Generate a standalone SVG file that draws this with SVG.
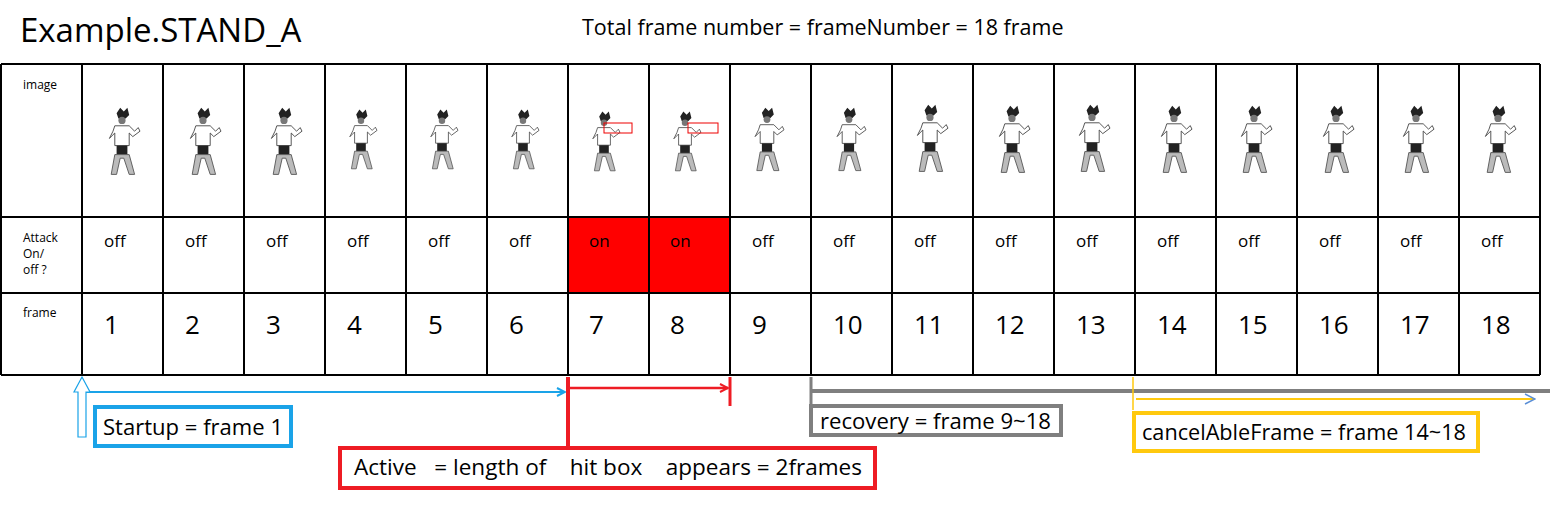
<svg xmlns="http://www.w3.org/2000/svg" width="1550" height="516" viewBox="0 0 1550 516">
<style>
text{font-family:"Open Sans","Noto Sans","Liberation Sans",sans-serif;fill:#000}
.g{stroke:#000;stroke-width:2;fill:none}
.lab{font-size:12px}
.st{font-size:17px}
.num{font-size:26px}
.ann{font-size:21px}
</style>
<defs>
<symbol id="fig" viewBox="0 0 40 80" overflow="visible">
<path d="M14 8 L18 2 L22 6 L26 2 L28 10 L24 14 L16 14 Z" fill="#222"/>
<circle cx="20" cy="16" r="4" fill="#777"/>
<path d="M12 22 L28 22 L34 28 L38 24 L40 28 L32 34 L28 30 L28 44 L12 44 L12 30 L6 36 L10 28 Z" fill="#fff" stroke="#444" stroke-width="1"/>
<rect x="14" y="44" width="12" height="10" fill="#222"/>
<path d="M12 54 L8 76 L14 76 L18 58 L22 58 L28 76 L34 76 L28 54 Z" fill="#bbb" stroke="#555" stroke-width="1"/>
</symbol>
<marker id="ab" markerWidth="10" markerHeight="10" refX="9" refY="5" orient="auto" markerUnits="userSpaceOnUse"><path d="M1 1 L9 5 L1 9" fill="none" stroke="#1aa3e8" stroke-width="2"/></marker>
<marker id="ar" markerWidth="10" markerHeight="10" refX="9" refY="5" orient="auto" markerUnits="userSpaceOnUse"><path d="M1 1 L9 5 L1 9" fill="none" stroke="#ee1c24" stroke-width="2"/></marker>
<marker id="ay" markerWidth="12" markerHeight="12" refX="11" refY="6" orient="auto" markerUnits="userSpaceOnUse"><path d="M1 1 L11 6 L1 11" fill="none" stroke="#5b8fd6" stroke-width="1.5"/></marker>
</defs>
<text x="20" y="42" font-size="33">Example.STAND_A</text>
<text x="582" y="35" font-size="21.5">Total frame number = frameNumber = 18 frame</text>
<g id="table">
<rect x="568" y="217" width="162" height="76" fill="#ff0000"/>
<path class="g" d="M1 64H1540M1 217H1540M1 293H1540M1 375H1540M1 64V375M82 64V375M163 64V375M244 64V375M325 64V375M406 64V375M487 64V375M568 64V375M649 64V375M730 64V375M811 64V375M892 64V375M973 64V375M1054 64V375M1135 64V375M1216 64V375M1297 64V375M1378 64V375M1459 64V375M1540 64V375"/>
<text class="lab" x="23" y="89">image</text>
<text class="lab" x="23" y="242">Attack</text>
<text class="lab" x="23" y="258">On/</text>
<text class="lab" x="23" y="274">off ?</text>
<text class="lab" x="23" y="317">frame</text>
</g>
<g id="sprites">
<use href="#fig" x="104" y="104" width="36" height="76"/>
<use href="#fig" x="185" y="104" width="36" height="76"/>
<use href="#fig" x="266" y="104" width="36" height="76"/>
<use href="#fig" x="345" y="102" width="32" height="76"/>
<use href="#fig" x="426" y="102" width="32" height="76"/>
<use href="#fig" x="507" y="102" width="32" height="76"/>
<use href="#fig" x="588" y="104" width="32" height="76"/>
<rect x="604" y="123" width="28" height="10" fill="none" stroke="#e00" stroke-width="1"/>
<use href="#fig" x="669" y="104" width="32" height="76"/>
<rect x="688" y="123" width="30" height="10" fill="none" stroke="#e00" stroke-width="1"/>
<use href="#fig" x="750" y="102" width="34" height="76"/>
<use href="#fig" x="832" y="102" width="34" height="76"/>
<use href="#fig" x="912" y="100" width="36" height="78"/>
<use href="#fig" x="994" y="102" width="36" height="76"/>
<use href="#fig" x="1074" y="100" width="36" height="78"/>
<use href="#fig" x="1156" y="102" width="36" height="76"/>
<use href="#fig" x="1236" y="102" width="36" height="76"/>
<use href="#fig" x="1318" y="102" width="36" height="76"/>
<use href="#fig" x="1398" y="102" width="36" height="76"/>
<use href="#fig" x="1480" y="102" width="36" height="76"/>
</g>
<g id="onoff">
<text x="104" y="247" class="st">off</text><text x="185" y="247" class="st">off</text><text x="266" y="247" class="st">off</text><text x="347" y="247" class="st">off</text><text x="428" y="247" class="st">off</text><text x="509" y="247" class="st">off</text>
<text x="589" y="247" class="st">on</text><text x="670" y="247" class="st">on</text>
<text x="752" y="247" class="st">off</text><text x="833" y="247" class="st">off</text><text x="914" y="247" class="st">off</text><text x="995" y="247" class="st">off</text><text x="1076" y="247" class="st">off</text><text x="1157" y="247" class="st">off</text><text x="1238" y="247" class="st">off</text><text x="1319" y="247" class="st">off</text><text x="1400" y="247" class="st">off</text><text x="1481" y="247" class="st">off</text>
</g>
<g id="frames">
<text class="num" x="104" y="334">1</text><text class="num" x="185" y="334">2</text><text class="num" x="266" y="334">3</text><text class="num" x="347" y="334">4</text><text class="num" x="428" y="334">5</text><text class="num" x="509" y="334">6</text><text class="num" x="589" y="334">7</text><text class="num" x="670" y="334">8</text><text class="num" x="752" y="334">9</text><text class="num" x="833" y="334">10</text><text class="num" x="914" y="334">11</text><text class="num" x="995" y="334">12</text><text class="num" x="1076" y="334">13</text><text class="num" x="1157" y="334">14</text><text class="num" x="1238" y="334">15</text><text class="num" x="1319" y="334">16</text><text class="num" x="1400" y="334">17</text><text class="num" x="1481" y="334">18</text>
</g>
<g id="connectors" fill="none">
<path d="M84 392H565" stroke="#1aa3e8" stroke-width="2" marker-end="url(#ab)"/>
<path d="M82 377 L74 392 L78 392 L78 437 L86 437 L86 392 L90 392 Z" stroke="#1aa3e8" stroke-width="1.2" fill="#fff"/>
<path d="M568 377V446" stroke="#ee1c24" stroke-width="4"/>
<path d="M568 388H728" stroke="#ee1c24" stroke-width="2.5" marker-end="url(#ar)"/>
<path d="M730 377V406" stroke="#ee1c24" stroke-width="3"/>
<path d="M811 377V406" stroke="#7f7f7f" stroke-width="3"/>
<path d="M811 391H1550" stroke="#7f7f7f" stroke-width="4"/>
<path d="M1133 377V410" stroke="#ffc90e" stroke-width="1.5"/>
<path d="M1136 399H1535" stroke="#ffc90e" stroke-width="2" marker-end="url(#ay)"/>
</g>
<g id="startup"><rect x="95" y="407" width="196" height="39" fill="#fff" stroke="#1aa3e8" stroke-width="4"/><text class="ann" x="103" y="435" textLength="180" lengthAdjust="spacingAndGlyphs">Startup = frame 1</text></g>
<g id="active"><rect x="340" y="448" width="535" height="40" fill="#fff" stroke="#ee1c24" stroke-width="4"/><text class="ann" x="354" y="475" xml:space="preserve" textLength="508" lengthAdjust="spacingAndGlyphs">Active   = length of    hit box    appears = 2frames</text></g>
<g id="recovery"><rect x="811" y="406" width="250" height="29" fill="#fff" stroke="#7f7f7f" stroke-width="4"/><text class="ann" x="820" y="429" textLength="231" lengthAdjust="spacingAndGlyphs">recovery = frame 9~18</text></g>
<g id="cancel"><rect x="1134" y="413" width="344" height="38" fill="#fff" stroke="#ffc90e" stroke-width="4"/><text class="ann" x="1142" y="440" textLength="324" lengthAdjust="spacingAndGlyphs">cancelAbleFrame = frame 14~18</text></g>
</svg>
